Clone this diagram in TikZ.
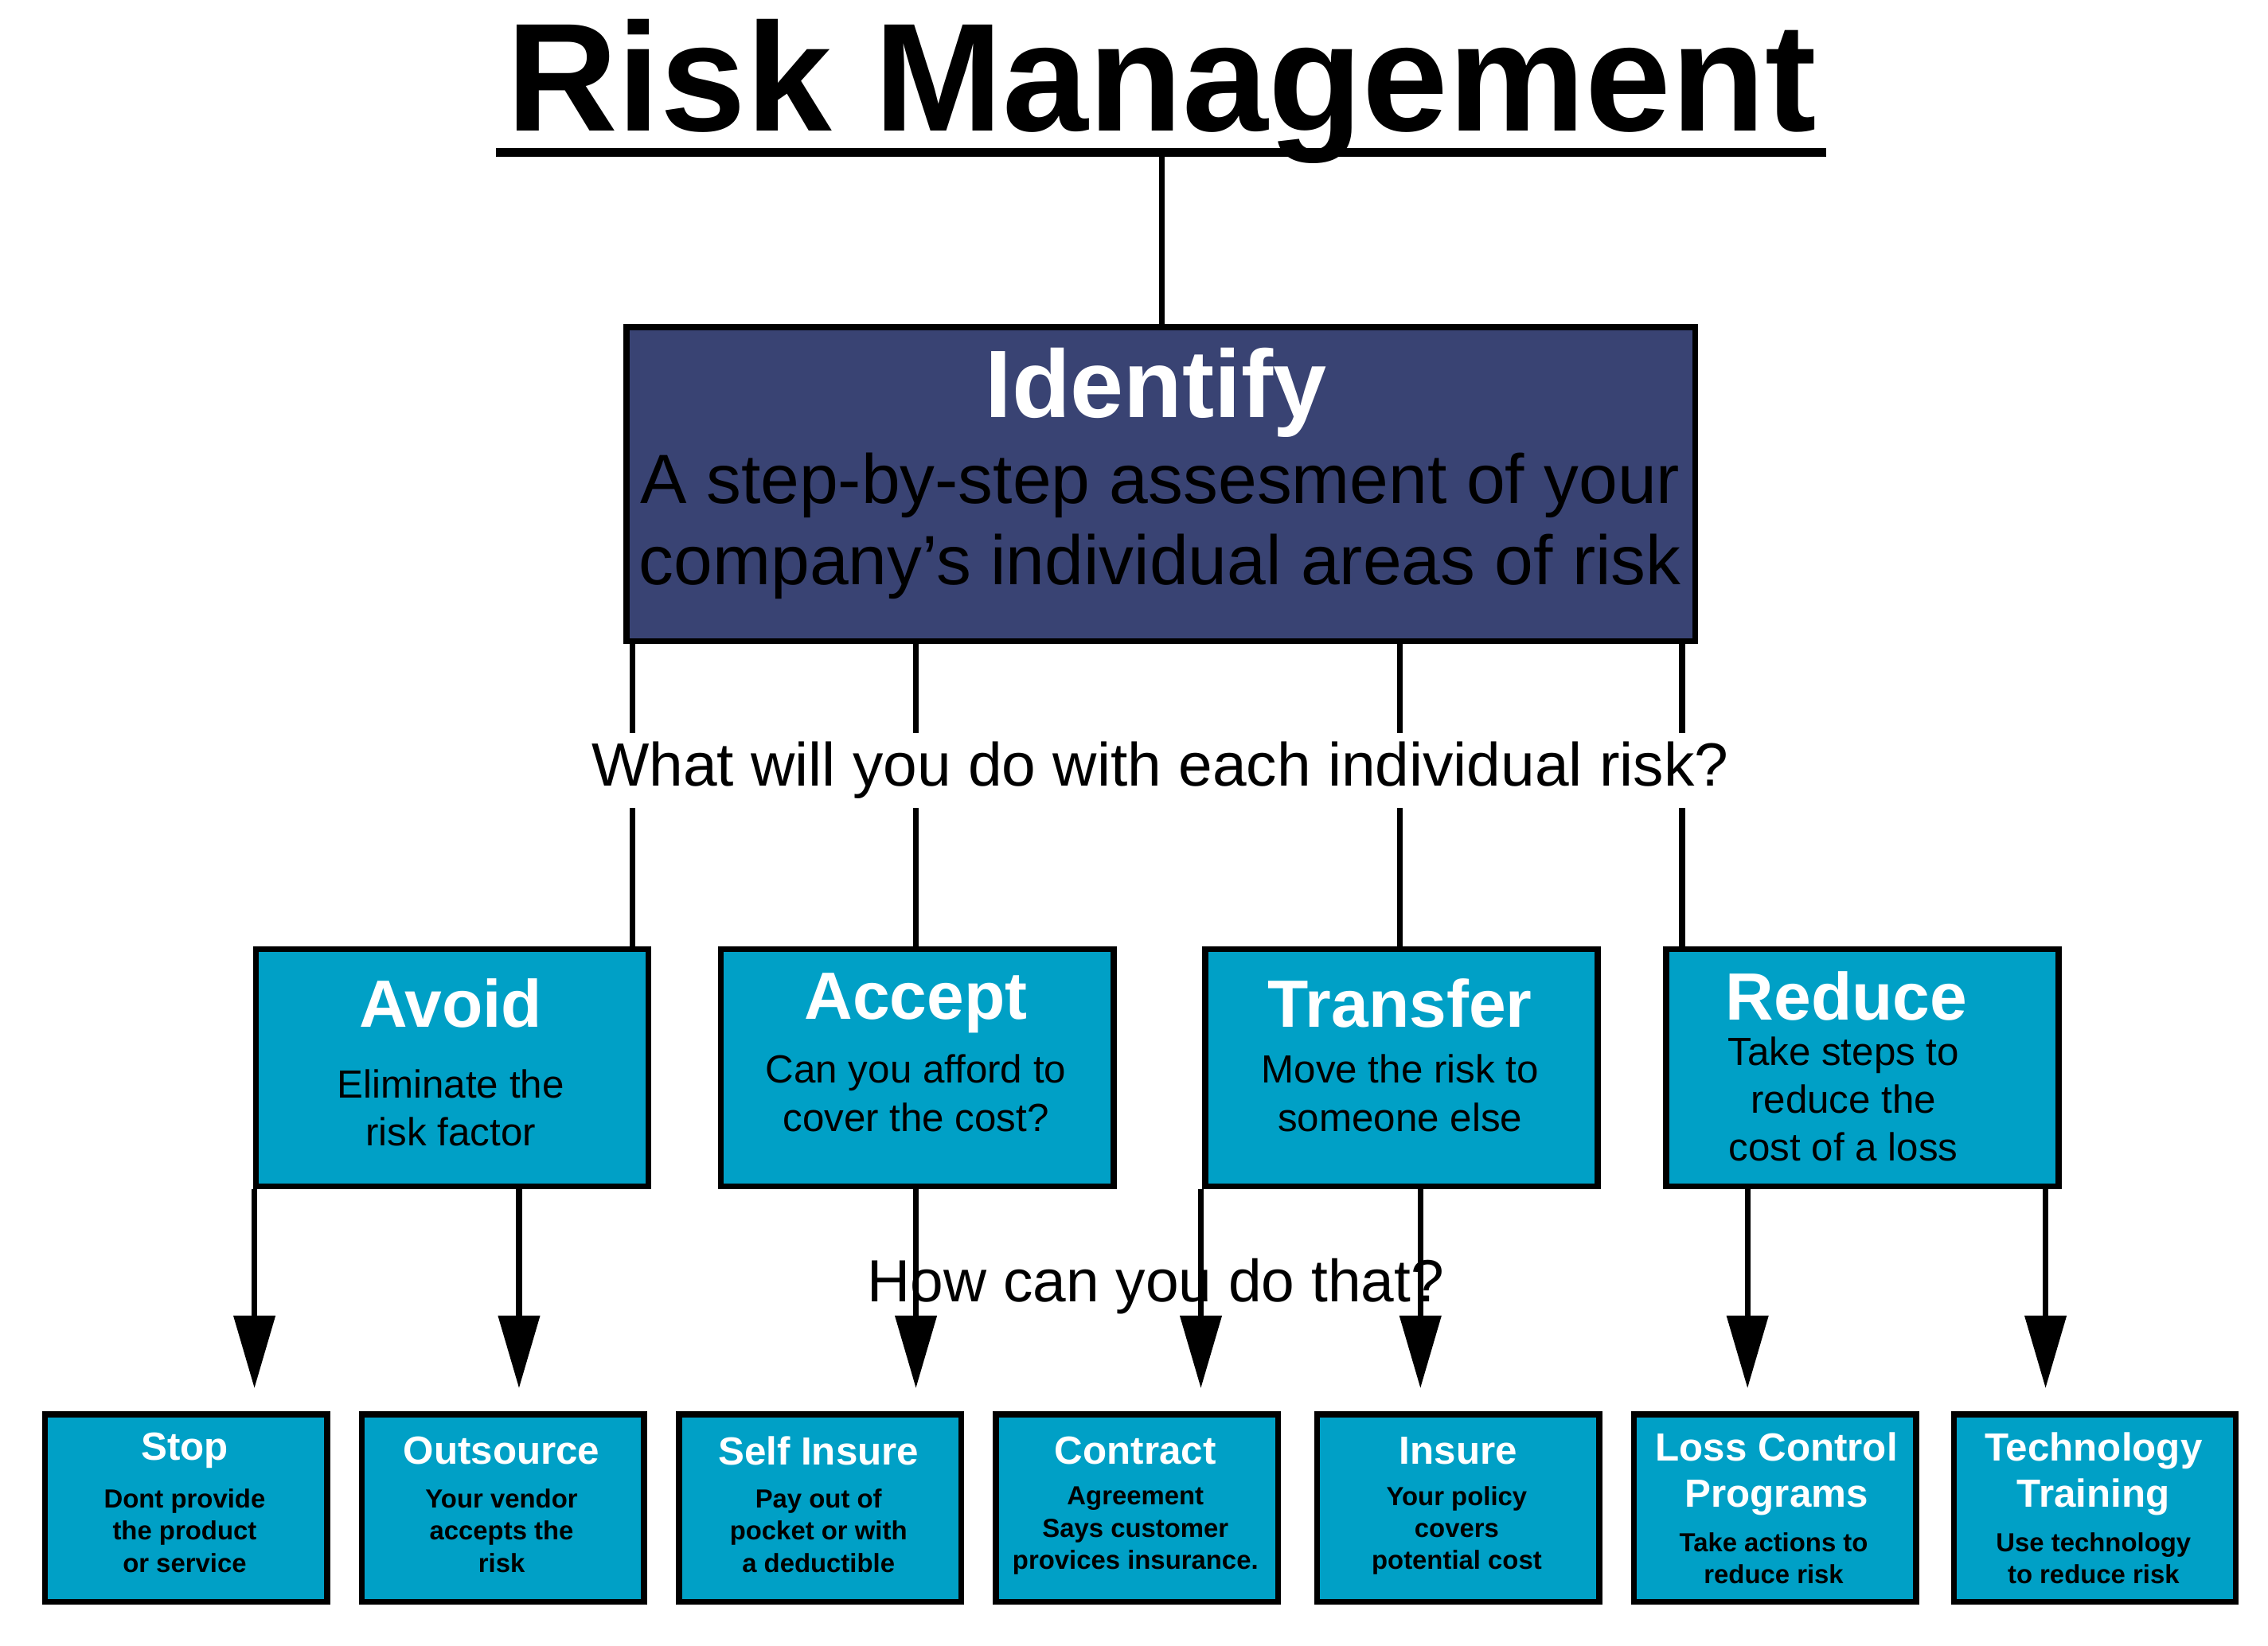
\documentclass[tikz,border=0pt]{standalone}
\usepackage{fontspec}
\setmainfont{Liberation Sans}
\usetikzlibrary{arrows.meta}
\definecolor{dblue}{HTML}{394373}
\definecolor{cyanb}{HTML}{00A0C6}
\begin{document}
\begin{tikzpicture}[x=0.5pt,y=-0.5pt,
  box/.style={draw=black,line width=2pt,fill=cyanb,anchor=north west,inner sep=0pt},
  mid/.style={box,minimum width=135pt,minimum height=81.5pt},
  bot/.style={box,minimum width=97pt,minimum height=64.5pt},
  conn/.style={line width=2pt},
  arr/.style={line width=2pt,-{Triangle[length=25pt,width=14pt]}},
  ttl/.style={text=white,font=\bfseries\fontsize{23}{26}\selectfont},
  dsc/.style={font=\fontsize{13.5}{16.5}\selectfont,align=center},
  bt/.style={text=white,font=\bfseries\fontsize{13.5}{16}\selectfont,align=center},
  bd/.style={font=\bfseries\fontsize{9}{11}\selectfont,align=center}]
\useasboundingbox (0,0) rectangle (1560,1132);
% title
\node (title) at (799,63) {\fontsize{53}{60}\selectfont\bfseries Risk Management};
\draw[line width=3pt] (341,105) -- (1256,105);
\node[draw=black,line width=2pt,fill=dblue,minimum width=367.5pt,minimum height=108pt,anchor=north west,inner sep=0pt] (ident) at (429,223) {};
\node[text=white,font=\bfseries\fontsize{33}{38}\selectfont] at (795,270) {Identify};
\node[font=\fontsize{24}{28}\selectfont,align=center] at (798,362) {A step-by-step assesment of your\\company’s individual areas of risk};
\coordinate (tl) at (799,107);
\draw[conn] (tl) -- (ident.north -| tl);
% middle
\node[mid] (avoid) at (174,651) {};
\node[mid] (accept) at (494,651) {};
\node[mid] (transfer) at (827,651) {};
\node[mid] (reduce) at (1144,651) {};
\foreach \x/\n in {435/avoid,630/accept,963/transfer,1157/reduce}{
  \draw[conn] (ident.south -| \x,0) -- (\n.north -| \x,0);}
\node[fill=white,inner xsep=0pt,inner ysep=3pt,font=\fontsize{21}{24}\selectfont] (q1) at (798,530) {What will you do with each individual risk?};
\node[ttl] at (310,690) {Avoid};
\node[dsc] at (310,762) {Eliminate the\\risk factor};
\node[ttl] at (630,690) {Accept};
\node[dsc] at (630,752) {Can you afford to\\cover the cost?};
\node[ttl] at (963,690) {Transfer};
\node[dsc] at (963,752) {Move the risk to\\someone else};
\node[ttl] at (1270,685) {Reduce};
\node[dsc] at (1268,756) {Take steps to\\reduce the\\cost of a loss};
% bottom
\foreach \n/\x in {stop/29,outs/247,self/465,contr/683,ins/904,loss/1122,tech/1342}{
  \node[bot] (\n) at (\x,971) {};}
\foreach \x/\n/\c in {175/avoid/a1,357/avoid/a2,630/accept/a3,826/transfer/a4,977/transfer/a5,1202/reduce/a6,1407/reduce/a7}{
  \coordinate (\c) at (\x,955);
  \draw[arr] (\n.south -| \c) -- (\c);}
\node[inner sep=1pt,font=\fontsize{20.5}{22}\selectfont] (q2) at (795,885) {How can you do that?};
\node[bt] at (127,998) {Stop};
\node[bd] at (127,1053) {Dont provide\\the product\\or service};
\node[bt] at (345,998) {Outsource};
\node[bd] at (345,1053) {Your vendor\\accepts the\\risk};
\node[bt] at (563,998) {Self Insure};
\node[bd] at (563,1053) {Pay out of\\pocket or with\\a deductible};
\node[bt] at (781,998) {Contract};
\node[bd] at (781,1053) {Agreement\\Says customer\\provices insurance.};
\node[bt] at (1003,998) {Insure};
\node[bd] at (1002,1053) {Your policy\\covers\\potential cost};
\node[bt] at (1222,1014) {Loss Control\\Programs};
\node[bd] at (1220,1072) {Take actions to\\reduce risk};
\node[bt] at (1440,1014) {Technology\\Training};
\node[bd] at (1440,1072) {Use technology\\to reduce risk};
\end{tikzpicture}
\end{document}
